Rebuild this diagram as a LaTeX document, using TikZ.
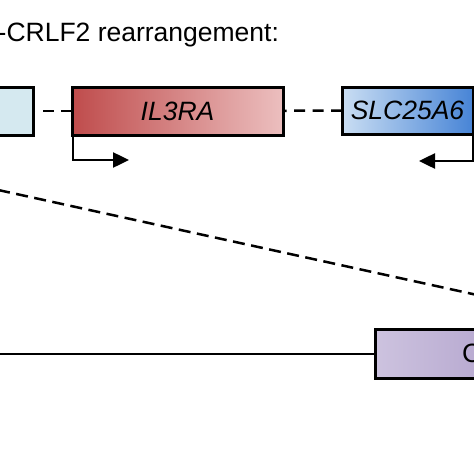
\documentclass[tikz,border=0pt]{standalone}
\usepackage{fontspec}
\setmainfont{Liberation Sans}
\usetikzlibrary{arrows.meta, positioning}
\definecolor{leftcyan}{HTML}{D5E9F0}
\definecolor{ilredL}{HTML}{BF4C4C}
\definecolor{ilredR}{HTML}{ECBFBF}
\definecolor{slcblueL}{HTML}{CADEF3}
\definecolor{slcblueR}{HTML}{4784D6}
\definecolor{crlfL}{HTML}{CDC3DF}
\definecolor{crlfR}{HTML}{9A86BC}
\newcommand\bigfont{\fontsize{26.5}{31}\selectfont}
\tikzstyle{arrow} = [line width=2.5pt,->,>={Triangle[length=16pt,width=15pt]}]
\tikzstyle{gene} = [rectangle, draw=black, line width=3pt, minimum height=48pt, inner sep=0pt, outer sep=0pt, font=\bigfont\itshape]
\tikzstyle{gap} = [line width=2.5pt, dash pattern=on 11pt off 7.5pt]
\tikzstyle{zoomline} = [line width=2.5pt, dash pattern=on 12pt off 6.5pt]
\begin{document}
\begin{tikzpicture}[x=1pt, y=-1pt]
\useasboundingbox (0,0) rectangle (474,474);
\clip (0,0) rectangle (474,474);
% Placement of nodes
\node (title) [anchor=base west, inner sep=0pt, font=\bigfont] at (-2.5,41.5) {-CRLF2 rearrangement:};
\node (left) [gene, minimum width=132pt, fill=leftcyan] at (-33,111) {};
\node (il3ra) [gene, minimum width=211pt, left color=ilredL, right color=ilredR] at (177.5,111) {IL3RA};
\node (slc) [gene, minimum width=131pt, minimum height=47pt, left color=slcblueL, right color=slcblueR] at (407.5,110.5) {SLC25A6};
\node (crlf) [gene, font=\bigfont, minimum width=258pt, minimum height=49pt, left color=crlfL, right color=crlfR] at (504,353.5) {CRLF2};

% free ends
\coordinate (tss1) at (129,160);
\coordinate (tss2) at (419,161);
\coordinate (zoomA) at (-20,186);
\coordinate (zoomB) at (500,300);
\coordinate (lineA) at (-10,353.5);

% Placement of edges
\draw [gap] (il3ra) -- (left);
\draw [gap] (slc) -- (il3ra);
\draw [arrow] ([xshift=1pt]il3ra.south west) |- (tss1);
\draw [arrow] (slc.south east) |- (tss2);

% zoom to rearranged allele
\draw [zoomline] (zoomA) -- (zoomB);
\draw [line width=2pt] (lineA) -- (crlf);

\end{tikzpicture}
\end{document}
